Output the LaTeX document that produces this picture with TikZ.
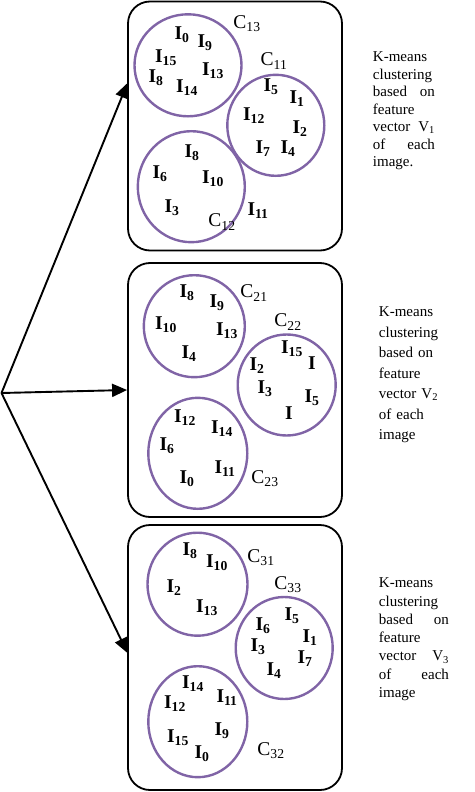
\documentclass[tikz,border=0pt]{standalone}
\usepackage{fontspec}
\setmainfont{Liberation Serif}
\usetikzlibrary{arrows.meta,shapes.geometric}

\definecolor{ringpurple}{RGB}{128,100,166}
\newcommand{\img}[1]{\textbf{I\textsubscript{#1}}}
\newcommand{\clu}[1]{C\textsubscript{#1}}

\begin{document}
\begin{tikzpicture}[
  x=1pt, y=-1pt,
  panel/.style={draw, line width=1.8pt, rounded corners=22pt, minimum width=214pt, inner sep=0pt},
  ring/.style={draw=ringpurple, ellipse, line width=2.4pt, inner sep=0pt},
  im/.style={font=\fontsize{19.5}{19.5}\selectfont, inner sep=0pt},
  cl/.style={font=\fontsize{19.5}{19.5}\selectfont, inner sep=0pt},
  note/.style={inner sep=0pt, anchor=north west, align=left},
  >={Triangle[length=15pt,width=13pt]}, line width=1.9pt
]
  \useasboundingbox (0,0) rectangle (474,792);

  \node[panel, minimum height=249pt] (p1) at (235,126) {};
  \node[panel, minimum height=254pt] (p2) at (235,390) {};
  \node[panel, minimum height=265pt] (p3) at (235,657.5) {};

  \coordinate (src) at (1.5,393);
  \coordinate (t1) at (127.5,83);
  \coordinate (t3) at (127.5,653);
  \draw[->] (src) -- (t1);
  \draw[->] (src) -- (p2.west);
  \draw[->] (src) -- (t3);

  % first clustering, V1
  \node[ring, minimum width=107pt, minimum height=102pt] (r13) at (188,65.3) {};
  \node[ring, minimum width=97pt, minimum height=101pt]  (r11) at (275.8,125.3) {};
  \node[ring, minimum width=107pt, minimum height=111pt] (r12) at (191.3,186.7) {};
  \node[cl] (k13) at (247,24)  {\clu{13}};
  \node[cl] (k11) at (274,61)  {\clu{11}};
  \node[cl] (k12) at (222,222) {\clu{12}};
  \node[im] (a0)  at (182,35)  {\img{0}};
  \node[im] (a9)  at (205,43)  {\img{9}};
  \node[im] (a15) at (166,58)  {\img{15}};
  \node[im] (a13) at (213,71)  {\img{13}};
  \node[im] (a8)  at (156,78)  {\img{8}};
  \node[im] (a14) at (187,88)  {\img{14}};
  \node[im] (a5)  at (271,87)  {\img{5}};
  \node[im] (a1)  at (297,99)  {\img{1}};
  \node[im] (a12) at (254,116) {\img{12}};
  \node[im] (a2)  at (300,129) {\img{2}};
  \node[im] (a7)  at (263,149) {\img{7}};
  \node[im] (a4)  at (288,149) {\img{4}};
  \node[im] (a8b) at (192,153) {\img{8}};
  \node[im] (a6)  at (160,174) {\img{6}};
  \node[im] (a10) at (213,179) {\img{10}};
  \node[im] (a3)  at (172,208) {\img{3}};
  \node[im] (a11) at (258,211) {\img{11}};
  \node[note, text width=62pt, font=\fontsize{15}{17.5}\selectfont] (n1) at (372,51)
      {K-means\\clustering\\based\hfill on\\feature\\vector\hfill V\textsubscript{1}\\of\hfill each\\image.};

  % second clustering, V2
  \node[ring, minimum width=101pt, minimum height=102pt] (r21) at (194.3,326.2) {};
  \node[ring, minimum width=98pt, minimum height=101pt]  (r22) at (286.7,385) {};
  \node[ring, minimum width=99pt, minimum height=111pt]  (r23) at (197.8,453.3) {};
  \node[cl] (k21) at (254,293) {\clu{21}};
  \node[cl] (k22) at (288,322) {\clu{22}};
  \node[cl] (k23) at (265,479) {\clu{23}};
  \node[im] (b8)  at (187,293) {\img{8}};
  \node[im] (b9)  at (217,303) {\img{9}};
  \node[im] (b10) at (166,325) {\img{10}};
  \node[im] (b13) at (227,331) {\img{13}};
  \node[im] (b4)  at (189,354) {\img{4}};
  \node[im] (b15) at (292,349) {\img{15}};
  \node[im] (b2)  at (257,366) {\img{2}};
  \node[im] (bx)  at (312,363) {\textbf{I}};
  \node[im] (b3)  at (265,389) {\img{3}};
  \node[im] (b5)  at (312,398) {\img{5}};
  \node[im] (by)  at (289,413) {\textbf{I}};
  \node[im] (b12) at (185,418) {\img{12}};
  \node[im] (b14) at (222,429) {\img{14}};
  \node[im] (b6)  at (167,446) {\img{6}};
  \node[im] (b11) at (225,469) {\img{11}};
  \node[im] (b0)  at (187,479) {\img{0}};
  \node[note, text width=62pt, font=\fontsize{15}{20.5}\selectfont] (n2) at (378,306)
      {K-means\\clustering\\based on\\feature\\vector V\textsubscript{2}\\of each\\image};

  % third clustering, V3
  \node[ring, minimum width=100pt, minimum height=103pt] (r31) at (197.5,584.2) {};
  \node[ring, minimum width=97pt, minimum height=102pt]  (r33) at (284.2,648) {};
  \node[ring, minimum width=99pt, minimum height=111pt]  (r32) at (197.8,721.7) {};
  \node[cl] (k31) at (261,558) {\clu{31}};
  \node[cl] (k33) at (288,585) {\clu{33}};
  \node[cl] (k32) at (271,751) {\clu{32}};
  \node[im] (c8)  at (190,551) {\img{8}};
  \node[im] (c10) at (217,563) {\img{10}};
  \node[im] (c2)  at (174,588) {\img{2}};
  \node[im] (c13) at (207,608) {\img{13}};
  \node[im] (c6)  at (263,626) {\img{6}};
  \node[im] (c5)  at (292,616) {\img{5}};
  \node[im] (c1)  at (310,638) {\img{1}};
  \node[im] (c3)  at (258,647) {\img{3}};
  \node[im] (c7)  at (305,659) {\img{7}};
  \node[im] (c4)  at (274,671) {\img{4}};
  \node[im] (c14) at (193,684) {\img{14}};
  \node[im] (c11) at (227,698) {\img{11}};
  \node[im] (c12) at (175,704) {\img{12}};
  \node[im] (c9)  at (222,731) {\img{9}};
  \node[im] (c15) at (178,738) {\img{15}};
  \node[im] (c0)  at (202,754) {\img{0}};
  \node[note, text width=70pt, font=\fontsize{15}{18.3}\selectfont] (n3) at (378,577)
      {K-means\\clustering\\based\hfill on\\feature\\vector\hfill V\textsubscript{3}\\of\hfill each\\image};
\end{tikzpicture}
\end{document}
